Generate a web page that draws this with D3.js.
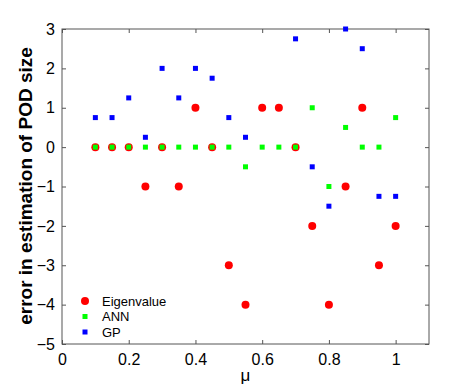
<!DOCTYPE html>
<html>
<head>
<meta charset="utf-8">
<script src="https://cdn.jsdelivr.net/npm/d3@7"></script>
<style>
  body { margin: 0; background: #fff; }
  text { font-family: "Liberation Sans", Arial, sans-serif; }
</style>
</head>
<body>
<div id="chart"></div>
<script>
const WIDTH = 474,
    HEIGHT = 387;

const margin = { top: 29, bottom: 43, left: 62, right: 45 };

const width = WIDTH - margin.left - margin.right,
    height = HEIGHT - margin.top - margin.bottom;

// data
const mu = [0.1, 0.15, 0.2, 0.25, 0.3, 0.35, 0.4, 0.45, 0.5, 0.55,
    0.6, 0.65, 0.7, 0.75, 0.8, 0.85, 0.9, 0.95, 1.0];
const eigenvalue = [0, 0, 0, -1, 0, -1, 1, 0, -3, -4,
    1, 1, 0, -2, -4, -1, 1, -3, -2];
const ann = [0, 0, 0, 0, 0, 0, 0, 0, 0, -0.5,
    0, 0, 0, 1, -1, 0.5, 0, 0, 0.75];
const gp = [0.75, 0.75, 1.25, 0.25, 2, 1.25, 2, 1.75, 0.75, 0.25,
    null, null, 2.75, -0.5, -1.5, 3, 2.5, -1.25, -1.25];
const xTicks = [0, 0.2, 0.4, 0.6, 0.8, 1];
const yTicks = [-5, -4, -3, -2, -1, 0, 1, 2, 3];
const legendNames = ["Eigenvalue", "ANN", "GP"];

const svg = d3.select("#chart")
    .append("svg")
    .attr("width", WIDTH)
    .attr("height", HEIGHT);

const x = d3.scaleLinear().domain([0, 1.1]).range([0, width]);
const y = d3.scaleLinear().domain([-5, 3]).range([height, 0]);

const g = svg.append("g")
    .attr("transform", `translate(${margin.left}, ${margin.top})`);

const styleAxis = (sel, labels) => {
    sel.select(".domain").remove();
    sel.selectAll("line").attr("stroke", "#555").attr("stroke-width", 1);
    sel.selectAll("text")
        .attr("fill", "#000")
        .style("font-size", "16px")
        .style("display", labels ? null : "none");
};

g.append("g")
    .attr("transform", `translate(0, ${height})`)
    .call(d3.axisBottom(x).tickValues(xTicks).tickSize(-4).tickPadding(10).tickFormat(d3.format("~g")))
    .call(s => styleAxis(s, true));

g.append("g")
    .call(d3.axisTop(x).tickValues(xTicks).tickSize(-4))
    .call(s => styleAxis(s, false));

g.append("g")
    .call(d3.axisLeft(y).tickValues(yTicks).tickSize(-4).tickPadding(7))
    .call(s => styleAxis(s, true));

g.append("g")
    .attr("transform", `translate(${width}, 0)`)
    .call(d3.axisRight(y).tickValues(yTicks).tickSize(-4))
    .call(s => styleAxis(s, false));

// box
g.append("rect")
    .attr("width", width)
    .attr("height", height)
    .attr("fill", "none")
    .attr("stroke", "#555")
    .attr("stroke-width", 1);

// Eigenvalue
g.append("g").selectAll("circle")
    .data(mu.map((m, i) => [m, eigenvalue[i]]))
    .join("circle")
    .attr("cx", d => x(d[0]))
    .attr("cy", d => y(d[1]))
    .attr("r", 4)
    .attr("fill", "#ff0000");

const sq = 5;

// ANN
g.append("g").selectAll("rect")
    .data(mu.map((m, i) => [m, ann[i]]))
    .join("rect")
    .attr("x", d => x(d[0]) - sq / 2)
    .attr("y", d => y(d[1]) - sq / 2)
    .attr("width", sq)
    .attr("height", sq)
    .attr("fill", "#00ff00");

// GP
g.append("g").selectAll("rect")
    .data(mu.map((m, i) => [m, gp[i]]).filter(d => d[1] !== null))
    .join("rect")
    .attr("x", d => x(d[0]) - sq / 2)
    .attr("y", d => y(d[1]) - sq / 2)
    .attr("width", sq)
    .attr("height", sq)
    .attr("fill", "#0000ff");

// legend
const legend = svg.append("g").attr("transform", "translate(85, 301)");
const legendColors = ["#ff0000", "#00ff00", "#0000ff"];
legendNames.forEach((name, i) => {
    const row = legend.append("g").attr("transform", `translate(0, ${i * 15.5})`);
    if (i === 0) {
        row.append("circle").attr("r", 4).attr("fill", legendColors[i]);
    } else {
        row.append("rect").attr("x", -2.5).attr("y", -2.5)
            .attr("width", sq).attr("height", sq).attr("fill", legendColors[i]);
    }
    row.append("text")
        .attr("x", 17)
        .attr("y", 4.5)
        .style("font-size", "13px")
        .text(name);
});

// axis labels
svg.append("text")
    .attr("x", margin.left + x(0.55))
    .attr("y", 381)
    .attr("text-anchor", "middle")
    .style("font-size", "17px")
    .text("μ");

svg.append("text")
    .attr("transform", `translate(32, 186) rotate(-90)`)
    .attr("text-anchor", "middle")
    .style("font-size", "19px")
    .style("font-weight", "bold")
    .text("error in estimation of POD size");
</script>
</body>
</html>
